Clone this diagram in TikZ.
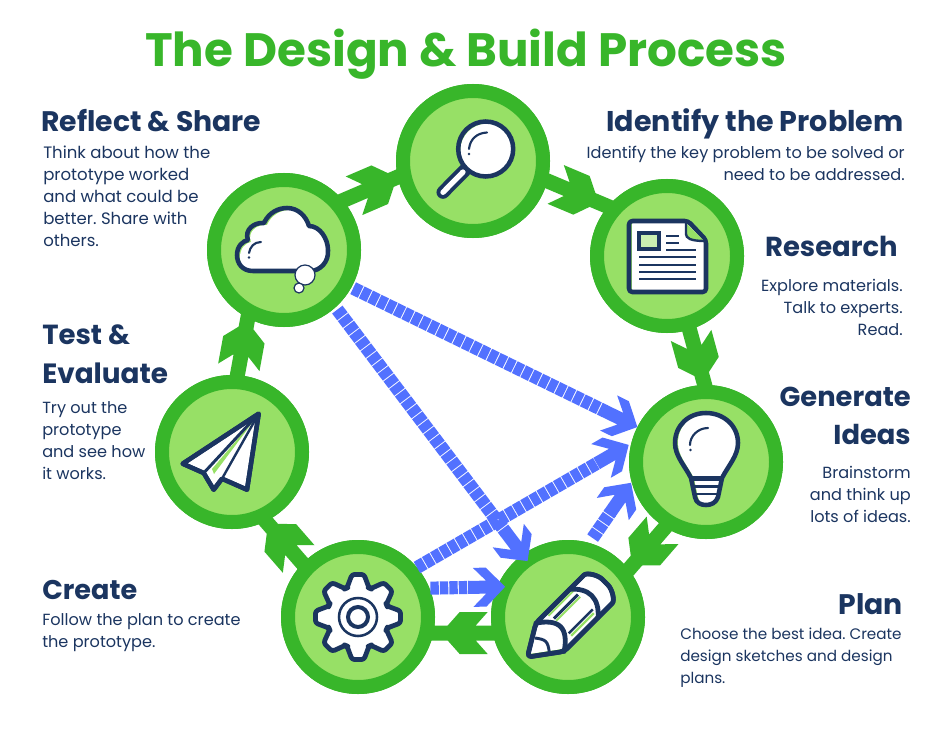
\documentclass[tikz,border=0pt]{standalone}
\usepackage{fontspec}
\setmainfont{Poppins}
\usetikzlibrary{calc}
\definecolor{gr}{HTML}{38B62A}
\definecolor{lg}{HTML}{97E066}
\definecolor{navy}{HTML}{1B3560}
\definecolor{bl}{HTML}{5271FF}
\tikzset{
  hub/.style={circle,fill=lg,draw=gr,line width=10.5pt,minimum size=105pt,inner sep=0pt},
  icon/.style={draw=navy,line width=3.4pt,line join=round,line cap=round},
  thinicon/.style={draw=navy,line width=1.6pt,line cap=round},
  head/.style={text=navy,inner sep=0pt,font=\fontsize{#1}{21}\selectfont\bfseries},
  head/.default=21.2,
  bodytxt/.style={text=navy,inner sep=0pt,font=\fontsize{#1}{16.5}\selectfont\frenchspacing},
  bodytxt/.default=12.1,
}
\newcommand\localframe[2]{%
  \pgfpointdiff{\pgfpointanchor{#1}{center}}{\pgfpointanchor{#2}{center}}%
  \pgfgetlastxy{\arrDx}{\arrDy}%
  \pgfmathsetmacro\arrAng{atan2(\arrDy,\arrDx)}%
  \pgfmathsetmacro\arrLen{veclen(\arrDx,\arrDy)/0.75}%
}
% green arrow: from, to, barb position along the shaft
\newcommand\garrow[3]{%
  \coordinate (s) at (#1); \coordinate (e) at (#2);
  \localframe{s}{e}
  \begin{scope}[shift={(s)},rotate=\arrAng]
    \fill[gr] (-3,7.5) -- ({#3+12},7.5) -- (#3,21) -- ({#3+28},21) -- ({#3+40},7.5) -- ({\arrLen+3},7.5)
      -- ({\arrLen+3},-7.5) -- ({#3+40},-7.5) -- ({#3+28},-21) -- (#3,-21) -- ({#3+12},-7.5) -- (-3,-7.5) -- cycle;
  \end{scope}
}
% blue arrow: from, to, start gap, tip extension
\newcommand\barrow[4]{%
  \coordinate (s) at (#1); \coordinate (e) at (#2);
  \localframe{s}{e}
  \pgfmathsetmacro\tipU{\arrLen+#4}
  \begin{scope}[shift={(s)},rotate=\arrAng]
    \draw[bl,line width=9.8pt,dash pattern=on 6.3pt off 0.8pt] (#3,0) -- ({\tipU-36},0);
    \fill[bl] (\tipU,0) -- ({\tipU-19},19.5) -- ({\tipU-32},19.5) -- ({\tipU-19},6.5) -- ({\tipU-37},6.5)
      -- ({\tipU-37},-6.5) -- ({\tipU-19},-6.5) -- ({\tipU-32},-19.5) -- ({\tipU-19},-19.5) -- cycle;
  \end{scope}
}
% outline filled white, offset so that a sliver of light green stays
\newcommand\whiteshape[3]{%
  \begin{scope}\clip #3;\fill[white,shift={(#1,#2)}] #3;\end{scope}
  \path[icon] #3;
}
\begin{document}
\begin{tikzpicture}[x=0.75pt,y=-0.75pt]
\useasboundingbox[fill=white] (0,0) rectangle (945,756);

\coordinate (magc) at (473,161);
\coordinate (newsc) at (667,256);
\coordinate (bulbc) at (706,462);
\coordinate (penc) at (568,617);
\coordinate (gearc) at (358,617);
\coordinate (planec) at (232,452);
\coordinate (cloudc) at (284,250);

% hubs (named first, so that the arrows can use their anchors; painted again below)
\node[hub] (mag) at (magc) {};
\node[hub] (news) at (newsc) {};
\node[hub] (bulb) at (bulbc) {};
\node[hub] (pen) at (penc) {};
\node[hub] (gear) at (gearc) {};
\node[hub] (plane) at (planec) {};
\node[hub] (cloud) at (cloudc) {};

% green cycle
\garrow{mag.-15}{news.140}{9}
\garrow{news.-73}{bulb.91}{6}
\garrow{bulb.-122}{pen.38}{4}
\garrow{pen.-168}{gear.-12}{5}
\garrow{gear.136}{plane.-64}{6}
\garrow{plane.86}{cloud.-118}{8}
\garrow{cloud.40}{mag.-168}{12}

\node[hub] at (magc) {};
\node[hub] at (newsc) {};
\node[hub] at (bulbc) {};
\node[hub] at (penc) {};
\node[hub] at (gearc) {};
\node[hub] at (planec) {};
\node[hub] at (cloudc) {};

% blue shortcuts
\barrow{cloud.-29}{bulb.153}{2}{0}
\barrow{cloud.-48.7}{pen.126}{3}{8}
\barrow{gear.40}{bulb.166}{0}{-3}
\barrow{pen.74.6}{bulb.195.6}{6}{-1}
\barrow{gear.22.6}{pen.157}{1}{8}

% magnifier
\begin{scope}[shift={(mag)}]
  \draw[navy,line width=9.8pt,line cap=round] (-8,9) -- (-30,31.3);
  \draw[white,line width=4pt,line cap=round] (-10,11) -- (-30,31.3);
  \whiteshape{2}{2}{(12.7,-12) circle (27.5)}
  \draw[thinicon] (14,-28.5) .. controls (4,-28) and (-3,-22) .. (-4,-12);
  \fill[navy] (-4,-7) circle (1.3);
\end{scope}

% newspaper
\begin{scope}[shift={(news)}]
  \whiteshape{3}{0}{(-38,-35) [rounded corners=2.5pt] -- (21,-35) -- (39,-16) -- (39,36) -- (-38,36) -- cycle}
  \fill[lg] (19,-33) -- (19,-22) .. controls (19,-18) and (23,-15) .. (37,-15) -- cycle;
  \draw[navy,line width=1.8pt,line join=round] (19,-34) -- (19,-22) .. controls (19,-18) and (23,-15) .. (38,-15);
  \draw[navy,line width=3.4pt,fill=lg!50!white] (-28,-23) rectangle (-8,-7);
  \foreach \yy/\xa/\xb in {-20/-1/12,-13/-1/12,-5.7/-1/29,1.3/-28/29,8.7/-28/29,16/-28/29,23.3/-28/29}
    \draw[navy,line width=1.7pt] (\xa,\yy) -- (\xb,\yy);
\end{scope}

% bulb
\begin{scope}[shift={(bulb)}]
  \whiteshape{3}{0}{(0,-49) .. controls (18,-49) and (32,-36) .. (32,-19) .. controls (32,-6) and (22,4) .. (16,16)
    -- (12,35) .. controls (10,41) and (5,43) .. (0,43) .. controls (-5,43) and (-10,41) .. (-11,35) -- (-15,16)
    .. controls (-21,4) and (-31,-6) .. (-31,-19) .. controls (-31,-36) and (-18,-49) .. (0,-49) -- cycle}
  \draw[navy,line width=3.2pt] (-15,16.5) -- (16,16.5);
  \draw[navy,line width=1.6pt] (-13,24.5) -- (14,24.5);
  \draw[navy,line width=1.6pt] (-11.5,32) -- (12.5,32);
  \draw[thinicon] (2,-34) .. controls (-8,-34) and (-16,-26) .. (-16,-17);
  \fill[navy] (-15.5,-12) circle (1.3);
\end{scope}

% pencil
\begin{scope}[shift={(pen)},shift={(-18,20.3)},rotate=45]
  \whiteshape{2}{-2}{(-30,-2) [rounded corners=3pt] -- (0,-20) -- (64,-20) .. controls (72,-20) and (78,-10) .. (78,0)
    .. controls (78,10) and (72,20) .. (64,20) -- (0,20) -- cycle}
  \fill[lg] (14,-17.3) rectangle (50,-15.3);
  \fill[lg] (16,-8.3) rectangle (50,-6.3);
  \fill[lg] (16,12.7) rectangle (48,15);
  \draw[navy,line width=2.2pt] (16,-10.5) -- (50,-10.5);
  \draw[navy,line width=1.8pt] (16,10.5) -- (50,10.5);
  \draw[icon,line width=3.6pt] (48,-20) .. controls (55,-14) and (59,-7) .. (59,0) .. controls (59,7) and (55,14) .. (48,20);
  \draw[icon,line width=3.6pt] (0,-20) .. controls (9,-14) and (15,-7) .. (15,0) .. controls (15,7) and (9,14) .. (0,20);
  \path[icon,line width=3.6pt] (-30,-2) [rounded corners=3pt] -- (0,-20) -- (64,-20) .. controls (72,-20) and (78,-10) .. (78,0)
    .. controls (78,10) and (72,20) .. (64,20) -- (0,20) -- cycle;
  \draw[navy,line width=2.2pt] (-11,-10) .. controls (-8,-6) and (-6,-3) .. (-6,0) .. controls (-6,3) and (-8,6) .. (-11,10);
\end{scope}

% gear
\begin{scope}[shift={(gear)}]
  \fill[lg,shift={(-2,2)},rounded corners=2pt] (-21:31) \foreach \a in {0,45,...,315} { -- (\a-21:31) -- (\a-8:43) -- (\a+8:43) -- (\a+21:31) } -- cycle;
  \path[fill=white,draw=navy,line width=3.6pt,line join=round,rounded corners=2pt]
    (-21:31) \foreach \a in {0,45,...,315} { -- (\a-21:31) -- (\a-8:43) -- (\a+8:43) -- (\a+21:31) } -- cycle;
  \draw[navy,line width=1.9pt] (0,0) circle (19);
  \draw[navy,line width=3pt] (0,0) circle (10);
\end{scope}

% paper plane
\begin{scope}[shift={(plane)}]
  \whiteshape{0}{0}{(26.7,-38.3) -- (-49.3,11.7) -- (-28.3,21) -- (-18.3,37.7) -- (-10,26.7) -- (15,37.7) -- cycle}
  \fill[lg] (26,-37) -- (-18,22) -- (-20,17) -- cycle;
  \draw[navy,line width=2.2pt,line join=round] (26.7,-38.3) -- (-28.3,21);
  \draw[navy,line width=1.8pt,line join=round] (26.7,-38.3) -- (-10,26.7);
  \path[icon] (26.7,-38.3) -- (-49.3,11.7) -- (-28.3,21) -- (-18.3,37.7) -- (-10,26.7) -- (15,37.7) -- cycle;
\end{scope}

% cloud
\begin{scope}[shift={(cloud)}]
  \whiteshape{3}{2}{(-31,21) .. controls (-42,21) and (-47,13) .. (-47,5) .. controls (-47,-4) and (-41,-9) .. (-36,-10)
    .. controls (-40,-20) and (-30,-28) .. (-20,-27) .. controls (-15,-38) and (-5,-42) .. (3,-42)
    .. controls (14,-42) and (22,-34) .. (25,-24) .. controls (36,-24) and (44,-11) .. (44,0)
    .. controls (45,12) and (36,21) .. (26,21) -- cycle}
  \draw[thinicon] (-23,-8) .. controls (-30,-8) and (-34,-3) .. (-35,3);
  \fill[navy] (-35,7.5) circle (1.3);
  \draw[navy,line width=0.9pt,fill=white] (21,25) circle (10);
  \draw[navy,line width=0.9pt,fill=white] (15,38) circle (5);
\end{scope}

% texts
\node[font=\fontsize{35.1}{37}\selectfont\bfseries,text=gr,inner sep=0pt] (title) at (466,54) {The Design \& Build Process};

\node[head,anchor=base west] (h1) at (41,131.5) {Reflect \& Share};
\node[bodytxt=12.4,anchor=north west,align=left] (b1) at (43,146) {Think about how the\\prototype worked\\and what could be\\better. Share with\\others.};

\node[head=21.4,anchor=base east] (h2) at (904,131.5) {Identify the Problem};
\node[bodytxt,anchor=north east,align=right] (b2) at (905,146) {Identify the key problem to be solved or\\need to be addressed.};

\node[head=20.6,anchor=base east] (h3) at (898,256) {Research};
\node[bodytxt,anchor=north east,align=right] (b3) at (903,279) {Explore materials.\\Talk to experts.\\Read.};

\node[head=20.5,anchor=base east] (h4) at (911,406) {Generate};
\node[head=20.5,anchor=base east] (h4b) at (911,444) {Ideas};
\node[bodytxt,anchor=north east,align=right] (b4) at (911,466) {Brainstorm\\and think up\\lots of ideas.};

\node[head,anchor=base east] (h5) at (903,614) {Plan};
\node[bodytxt=11.4,anchor=north west,align=left] (b5) at (680,628) {Choose the best idea. Create\\design sketches and design\\plans.};

\node[head=20.7,anchor=base west] (h6) at (42,344) {Test \&};
\node[head=20.9,anchor=base west] (h6b) at (42,383) {Evaluate};
\node[bodytxt,anchor=north west,align=left] (b6) at (42,401) {Try out the\\prototype\\and see how\\it works.};

\node[head=20.3,anchor=base west] (h7) at (42,599) {Create};
\node[bodytxt,anchor=north west,align=left] (b7) at (42,613) {Follow the plan to create\\the prototype.};
\end{tikzpicture}
\end{document}
